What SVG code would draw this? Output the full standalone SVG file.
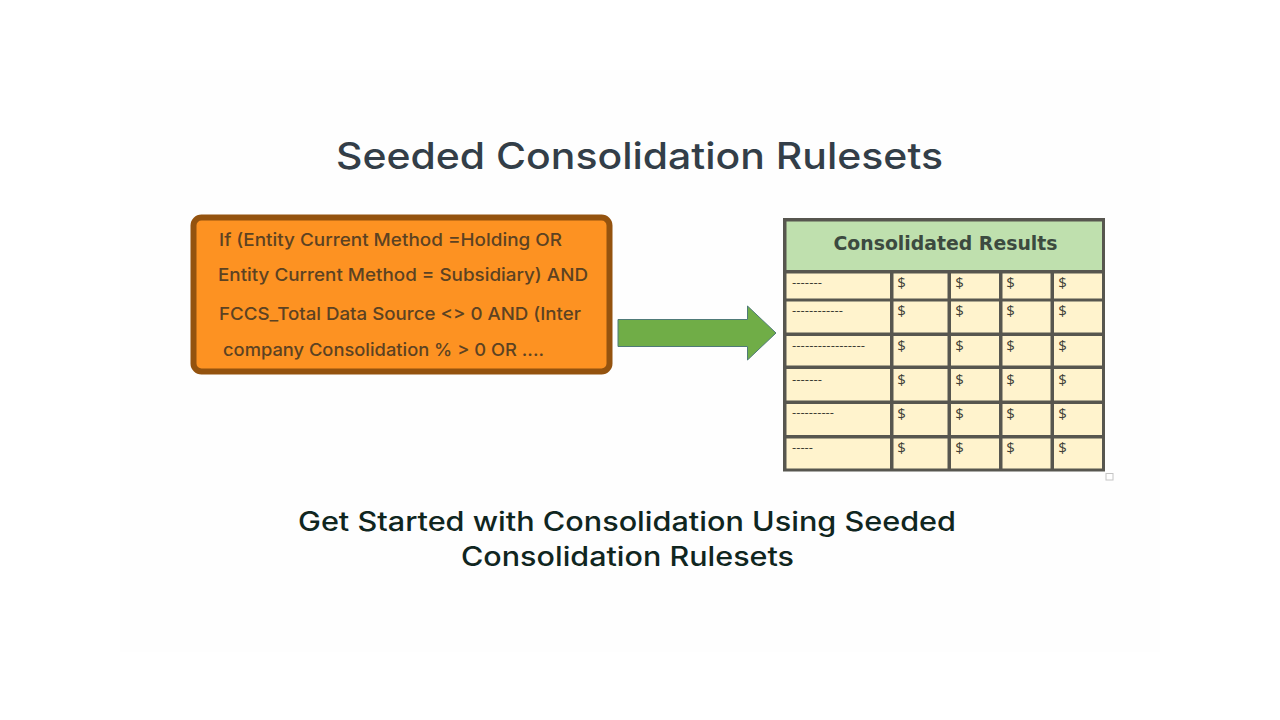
<svg xmlns="http://www.w3.org/2000/svg" width="1280" height="720" viewBox="0 0 1280 720">
<style>
text{font-family:Inter,"Noto Sans","Liberation Sans",sans-serif}
.r{font-size:17.5px;font-weight:500;fill:#5c4222}
.h{fill:#fff3cd}
.d{font-family:"Liberation Sans",sans-serif;font-size:11px;fill:#2e2e28}
.s{font-family:"Open Sans",sans-serif;font-size:15px;fill:#3f3f38;text-anchor:middle}
.t{font-size:26.5px;font-weight:500;fill:#10261f}
</style>
<rect width="1280" height="720" fill="#ffffff"/>
<rect x="120" y="70" width="1040" height="582" fill="#fefefe"/>
<text id="title" x="336" y="169" font-size="37" font-weight="500" fill="#333e48" textLength="607" lengthAdjust="spacingAndGlyphs">Seeded Consolidation Rulesets</text>
<g id="rule-box">
<rect x="193.500" y="217.500" width="416" height="154" rx="8" fill="#fd9222" stroke="#94530f" stroke-width="6"/>
<text class="r" x="219" y="246" textLength="343" lengthAdjust="spacingAndGlyphs">If (Entity Current Method =Holding OR</text>
<text class="r" x="218" y="281" textLength="370" lengthAdjust="spacingAndGlyphs">Entity Current Method = Subsidiary) AND</text>
<text class="r" x="219" y="320" textLength="362" lengthAdjust="spacingAndGlyphs">FCCS_Total Data Source &lt;&gt; 0 AND (Inter</text>
<text class="r" x="223" y="355.500" textLength="321" lengthAdjust="spacingAndGlyphs">company Consolidation % &gt; 0 OR ....</text>
</g>
<g id="connectors">
<path d="M618 319.500H747.500V306L776 333L747.500 360V346.500H618Z" fill="#70ad47" stroke="#4f7a78" stroke-width="1"/>
</g>
<g id="results-table">
<rect x="783" y="218" width="322" height="253.500" fill="#57564f"/>
<rect x="786.500" y="221.500" width="315.500" height="48.500" fill="#bfe0ae"/>
<text x="945.500" y="250" text-anchor="middle" font-size="19" font-weight="700" fill="#3c4a40" textLength="224" lengthAdjust="spacingAndGlyphs" style="font-family:'DejaVu Sans',sans-serif">Consolidated Results</text>
<g id="row-1">
<rect class="h" x="786.500" y="273.500" width="103.500" height="25"/><rect class="h" x="893.500" y="273.500" width="54" height="25"/><rect class="h" x="951" y="273.500" width="48" height="25"/><rect class="h" x="1002.500" y="273.500" width="48" height="25"/><rect class="h" x="1054" y="273.500" width="48" height="25"/>
<text class="d" x="792" y="286" textLength="30" lengthAdjust="spacingAndGlyphs">-------</text><text class="s" x="901.500" y="288">$</text><text class="s" x="959.500" y="288">$</text><text class="s" x="1010.500" y="288">$</text><text class="s" x="1062.500" y="288">$</text>
</g>
<g id="row-2">
<rect class="h" x="786.500" y="301.500" width="103.500" height="31"/><rect class="h" x="893.500" y="301.500" width="54" height="31"/><rect class="h" x="951" y="301.500" width="48" height="31"/><rect class="h" x="1002.500" y="301.500" width="48" height="31"/><rect class="h" x="1054" y="301.500" width="48" height="31"/>
<text class="d" x="792" y="314" textLength="51" lengthAdjust="spacingAndGlyphs">------------</text><text class="s" x="901.500" y="316">$</text><text class="s" x="959.500" y="316">$</text><text class="s" x="1010.500" y="316">$</text><text class="s" x="1062.500" y="316">$</text>
</g>
<g id="row-3">
<rect class="h" x="786.500" y="336" width="103.500" height="29.500"/><rect class="h" x="893.500" y="336" width="54" height="29.500"/><rect class="h" x="951" y="336" width="48" height="29.500"/><rect class="h" x="1002.500" y="336" width="48" height="29.500"/><rect class="h" x="1054" y="336" width="48" height="29.500"/>
<text class="d" x="792" y="349" textLength="73" lengthAdjust="spacingAndGlyphs">-----------------</text><text class="s" x="901.500" y="350.500">$</text><text class="s" x="959.500" y="350.500">$</text><text class="s" x="1010.500" y="350.500">$</text><text class="s" x="1062.500" y="350.500">$</text>
</g>
<g id="row-4">
<rect class="h" x="786.500" y="369" width="103.500" height="31.500"/><rect class="h" x="893.500" y="369" width="54" height="31.500"/><rect class="h" x="951" y="369" width="48" height="31.500"/><rect class="h" x="1002.500" y="369" width="48" height="31.500"/><rect class="h" x="1054" y="369" width="48" height="31.500"/>
<text class="d" x="792" y="382.500" textLength="30" lengthAdjust="spacingAndGlyphs">-------</text><text class="s" x="901.500" y="384.500">$</text><text class="s" x="959.500" y="384.500">$</text><text class="s" x="1010.500" y="384.500">$</text><text class="s" x="1062.500" y="384.500">$</text>
</g>
<g id="row-5">
<rect class="h" x="786.500" y="404" width="103.500" height="31"/><rect class="h" x="893.500" y="404" width="54" height="31"/><rect class="h" x="951" y="404" width="48" height="31"/><rect class="h" x="1002.500" y="404" width="48" height="31"/><rect class="h" x="1054" y="404" width="48" height="31"/>
<text class="d" x="792" y="416" textLength="42" lengthAdjust="spacingAndGlyphs">----------</text><text class="s" x="901.500" y="418.500">$</text><text class="s" x="959.500" y="418.500">$</text><text class="s" x="1010.500" y="418.500">$</text><text class="s" x="1062.500" y="418.500">$</text>
</g>
<g id="row-6">
<rect class="h" x="786.500" y="438.500" width="103.500" height="30"/><rect class="h" x="893.500" y="438.500" width="54" height="30"/><rect class="h" x="951" y="438.500" width="48" height="30"/><rect class="h" x="1002.500" y="438.500" width="48" height="30"/><rect class="h" x="1054" y="438.500" width="48" height="30"/>
<text class="d" x="792" y="451" textLength="21" lengthAdjust="spacingAndGlyphs">-----</text><text class="s" x="901.500" y="453">$</text><text class="s" x="959.500" y="453">$</text><text class="s" x="1010.500" y="453">$</text><text class="s" x="1062.500" y="453">$</text>
</g>
</g>
<rect id="handle" x="1106" y="473.500" width="7" height="6.500" fill="#fff" stroke="#c4c4c4" stroke-width="1"/>
<text id="caption-1" class="t" x="298" y="531" textLength="658" lengthAdjust="spacingAndGlyphs">Get Started with Consolidation Using Seeded</text>
<text id="caption-2" class="t" x="461" y="566" textLength="333" lengthAdjust="spacingAndGlyphs">Consolidation Rulesets</text>
</svg>
